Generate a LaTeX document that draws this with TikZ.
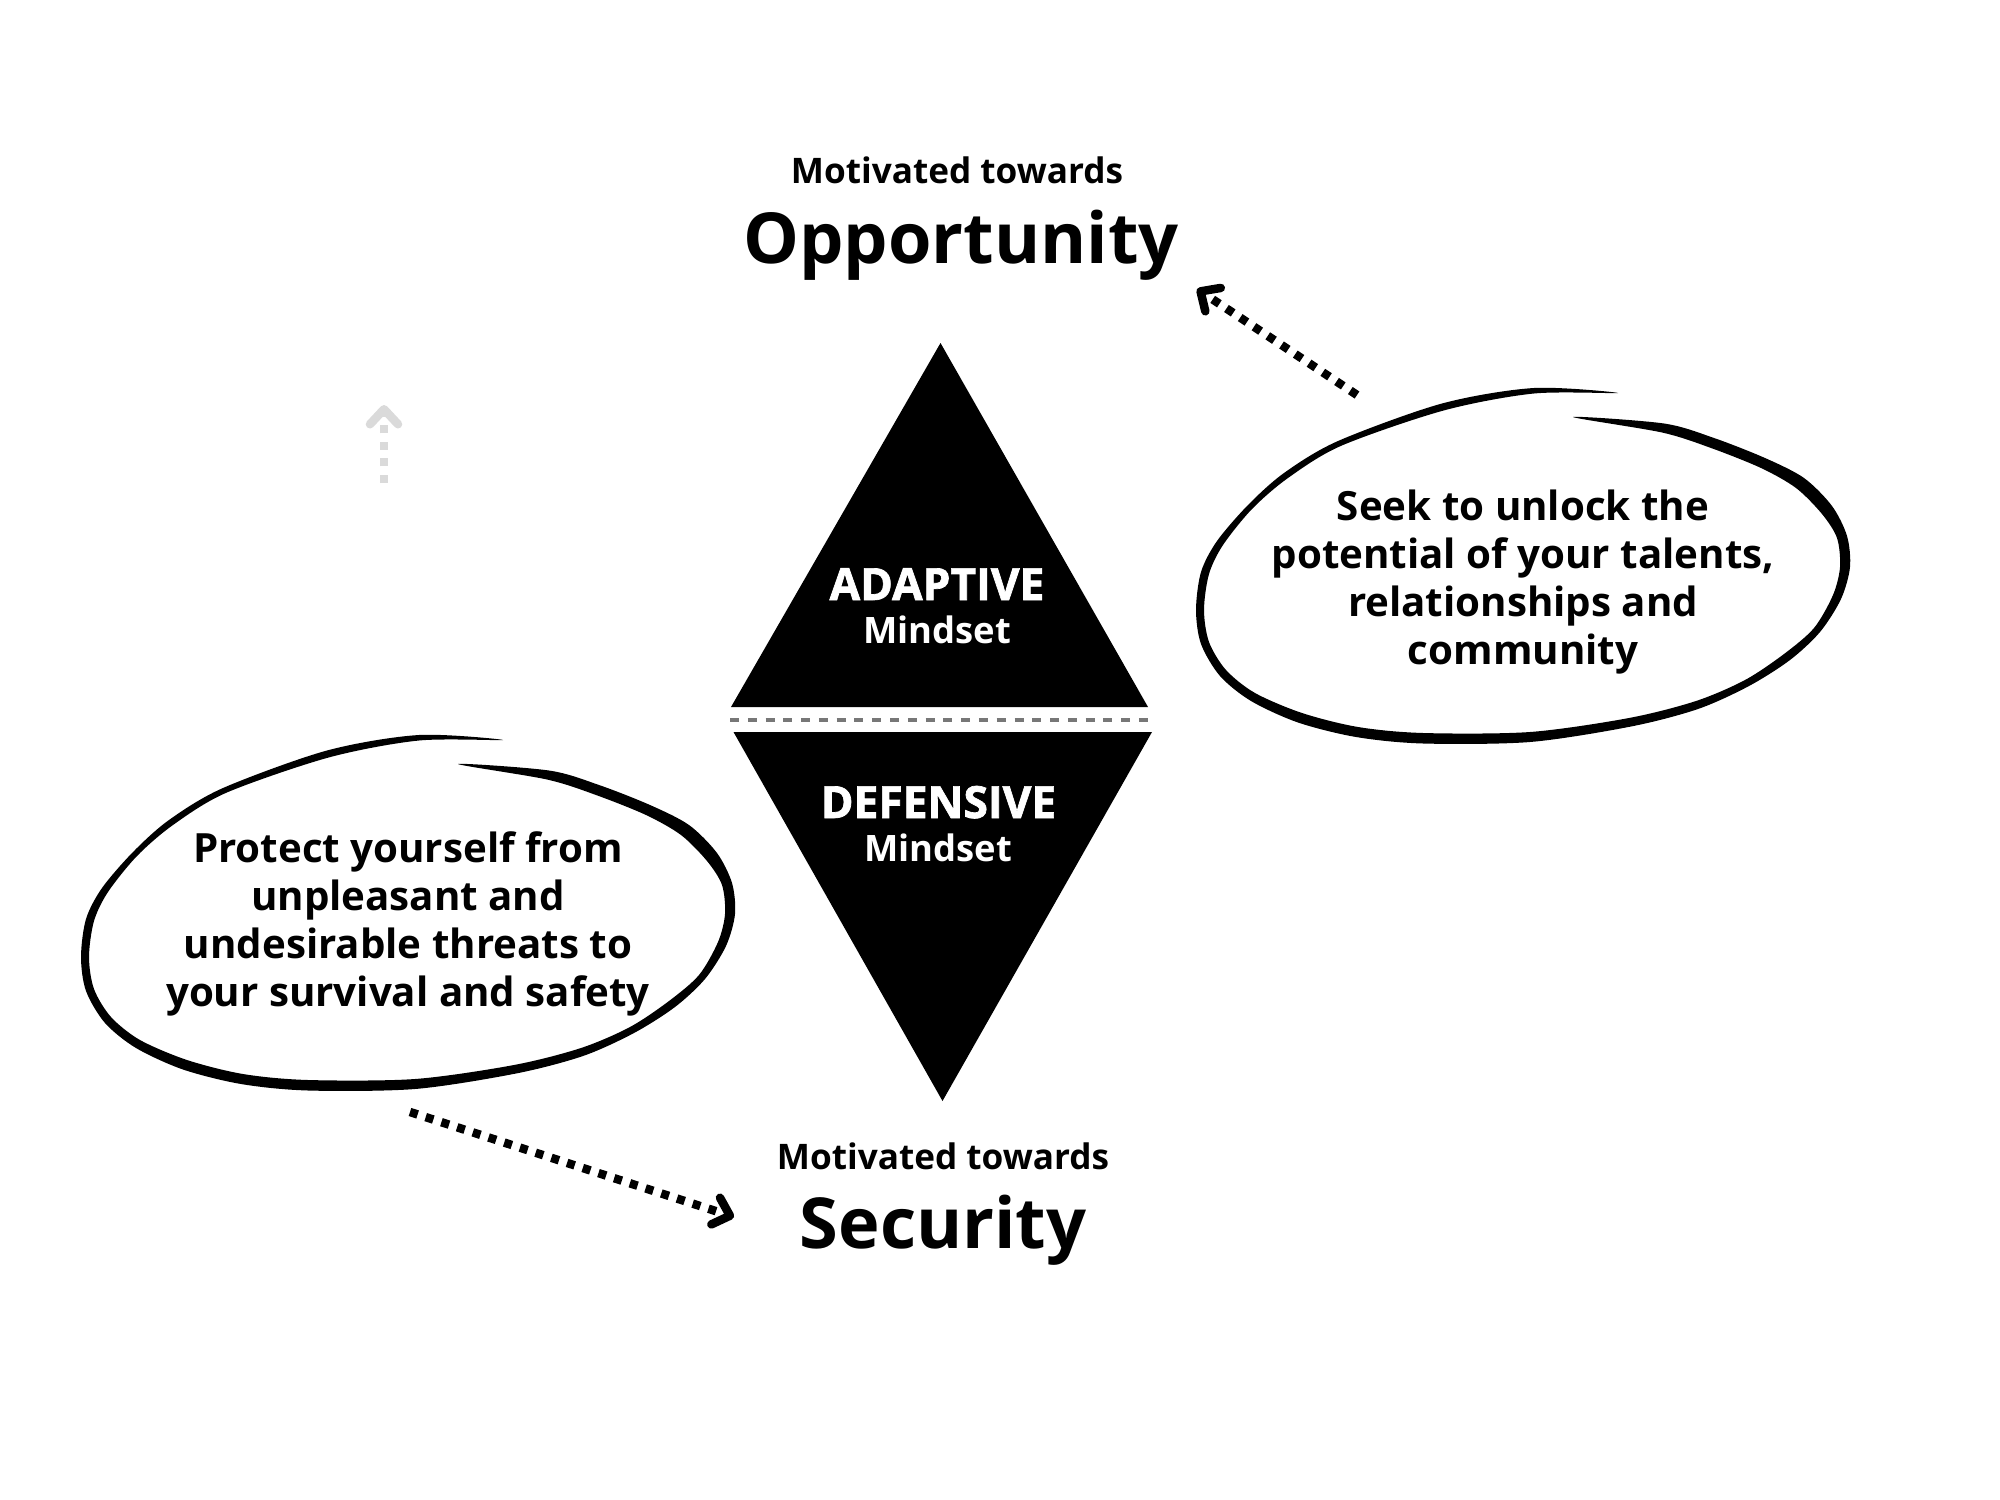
\documentclass[tikz,border=0pt]{standalone}
\usepackage{fontspec}
\setmainfont{Open Sans}
\newfontfamily\heavyfont{Open Sans}[BoldFeatures={FakeBold=1.6}]
\usetikzlibrary{arrows.meta}
\definecolor{dashgray}{HTML}{777777}
\definecolor{hintgray}{HTML}{DADADA}
\tikzset{
  tiptext/.style={font=\bfseries\fontsize{10pt}{12pt}\selectfont, anchor=base, inner sep=0pt},
  goaltext/.style={font=\bfseries\fontsize{20pt}{24pt}\selectfont, anchor=base, inner sep=0pt},
  kindtext/.style={font=\heavyfont\bfseries\fontsize{12.6pt}{15pt}\selectfont, text=white, anchor=base, inner sep=0pt},
  mindtext/.style={font=\bfseries\fontsize{10.35pt}{12pt}\selectfont, text=white, anchor=base, inner sep=0pt},
  bubbletext/.style={font=\bfseries\fontsize{11.45pt}{13.6pt}\selectfont, align=center, inner sep=0pt},
  dotarrow/.style={line width=.085cm, dash pattern=on .08cm off .085cm, -{Straight Barb[round,length=.15cm,width=.28cm,line width=.085cm]}},
  bubble/.pic={
    \fill plot[smooth cycle] coordinates {(1618,393) (1534,388) (1442,403.5) (1338,441) (1284,473) (1248,505) (1217,541) (1201,572)
      (1196,610) (1201,644) (1220,676) (1251,701) (1298,722.5) (1356,737) (1423,743.5) (1530,742) (1631,726.5) (1698,709)
      (1749,686) (1790,660) (1820,632) (1841,599) (1850,567) (1847,536) (1832,506) (1804,478) (1765,458) (1714,438) (1664,423.5) (1573,417)
      (1662,432.5) (1711,448) (1761,468) (1796,488) (1822,514) (1837,538) (1840,567) (1833,595) (1814,628) (1784,654)
      (1745,680) (1696,701) (1629,718) (1530,732)
      (1423,733) (1358,727) (1302,713) (1255,693) (1226,670) (1209,642) (1204,610) (1209,574) (1223,545) (1252,509) (1288,478) (1341.4,445.7) (1444,410.4) (1534,393.5)};
  }
}
\begin{document}
\begin{tikzpicture}[x=.01cm, y=-.01cm]
  \useasboundingbox (0,0) rectangle (2000,1500);
  \fill (940.5,343) -- (1148,707) -- (731,707) -- cycle;
  \fill (942.5,1101) -- (733.5,732) -- (1152,732) -- cycle;
  \coordinate (dashleft) at (730,720);
  \coordinate (dashright) at (1148,720);
  \draw[dashgray, line width=.04cm, dash pattern=on .09cm off .0877cm] (dashleft) -- (dashright);

  \node[tiptext] (toptip) at (957,184) {Motivated towards};
  \node[goaltext] (topgoal) at (961,263) {Opportunity};
  \node[tiptext] (lowtip) at (943,1169) {Motivated towards};
  \node[goaltext] (lowgoal) at (943,1248) {Security};
  \node[kindtext] (adaptive) at (937,600) {ADAPTIVE};
  \node[mindtext] (adaptmind) at (937,643) {Mindset};
  \node[kindtext] (defensive) at (938.5,818) {DEFENSIVE};
  \node[mindtext] (defmind) at (938,861) {Mindset};

  \pic (rightbubble) at (0,0) {bubble};
  \pic (leftbubble) at (-1115,347) {bubble};
  \node[bubbletext] (righttext) at (1523,582) {Seek to unlock the\\potential of your talents,\\relationships and\\community};
  \node[bubbletext] (lefttext) at (408,924) {Protect yourself from\\unpleasant and\\undesirable threats to\\your survival and safety};

  \coordinate (righttail) at (1357,395);
  \coordinate (righthead) at (1197,289);
  \coordinate (lefttail) at (410,1112);
  \coordinate (lefthead) at (734,1217);
  \coordinate (hinttail) at (384,483);
  \coordinate (hinthead) at (384,405);
  \draw[dotarrow] (righttail) -- (righthead);
  \draw[dotarrow] (lefttail) -- (lefthead);
  \draw[dotarrow, hintgray] (hinttail) -- (hinthead);
\end{tikzpicture}
\end{document}
